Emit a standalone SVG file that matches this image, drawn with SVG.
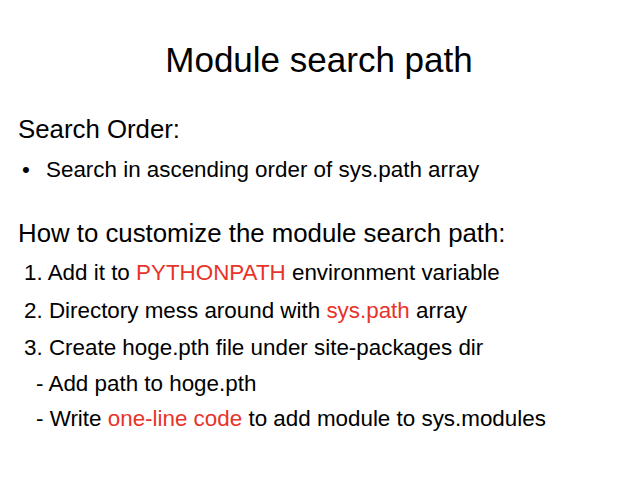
<svg xmlns="http://www.w3.org/2000/svg" width="638" height="478" viewBox="0 0 638 478">
<style>
text{font-family:"Liberation Sans",Arial,sans-serif;fill:#000}
.h{font-size:25.8px}.b{font-size:22.4px}.r{fill:#e8332a}
</style>
<rect width="638" height="478" fill="#fff"/>
<text x="319" y="72" font-size="35" text-anchor="middle">Module search path</text>
<text class="h" x="18" y="138">Search Order:</text>
<text class="b" x="22" y="177">•</text>
<text class="b" x="46" y="177">Search in ascending order of sys.path array</text>
<text class="h" x="18" y="242">How to customize the module search path:</text>
<text class="b" x="24" y="280">1. Add it to <tspan class="r">PYTHONPATH</tspan> environment variable</text>
<text class="b" x="24" y="318">2. Directory mess around with <tspan class="r">sys.path</tspan> array</text>
<text class="b" x="24" y="355">3. Create hoge.pth file under site-packages dir</text>
<text class="b" x="36" y="391">- Add path to hoge.pth</text>
<text class="b" x="36" y="426">- Write <tspan class="r">one-line code</tspan> to add module to sys.modules</text>
</svg>
